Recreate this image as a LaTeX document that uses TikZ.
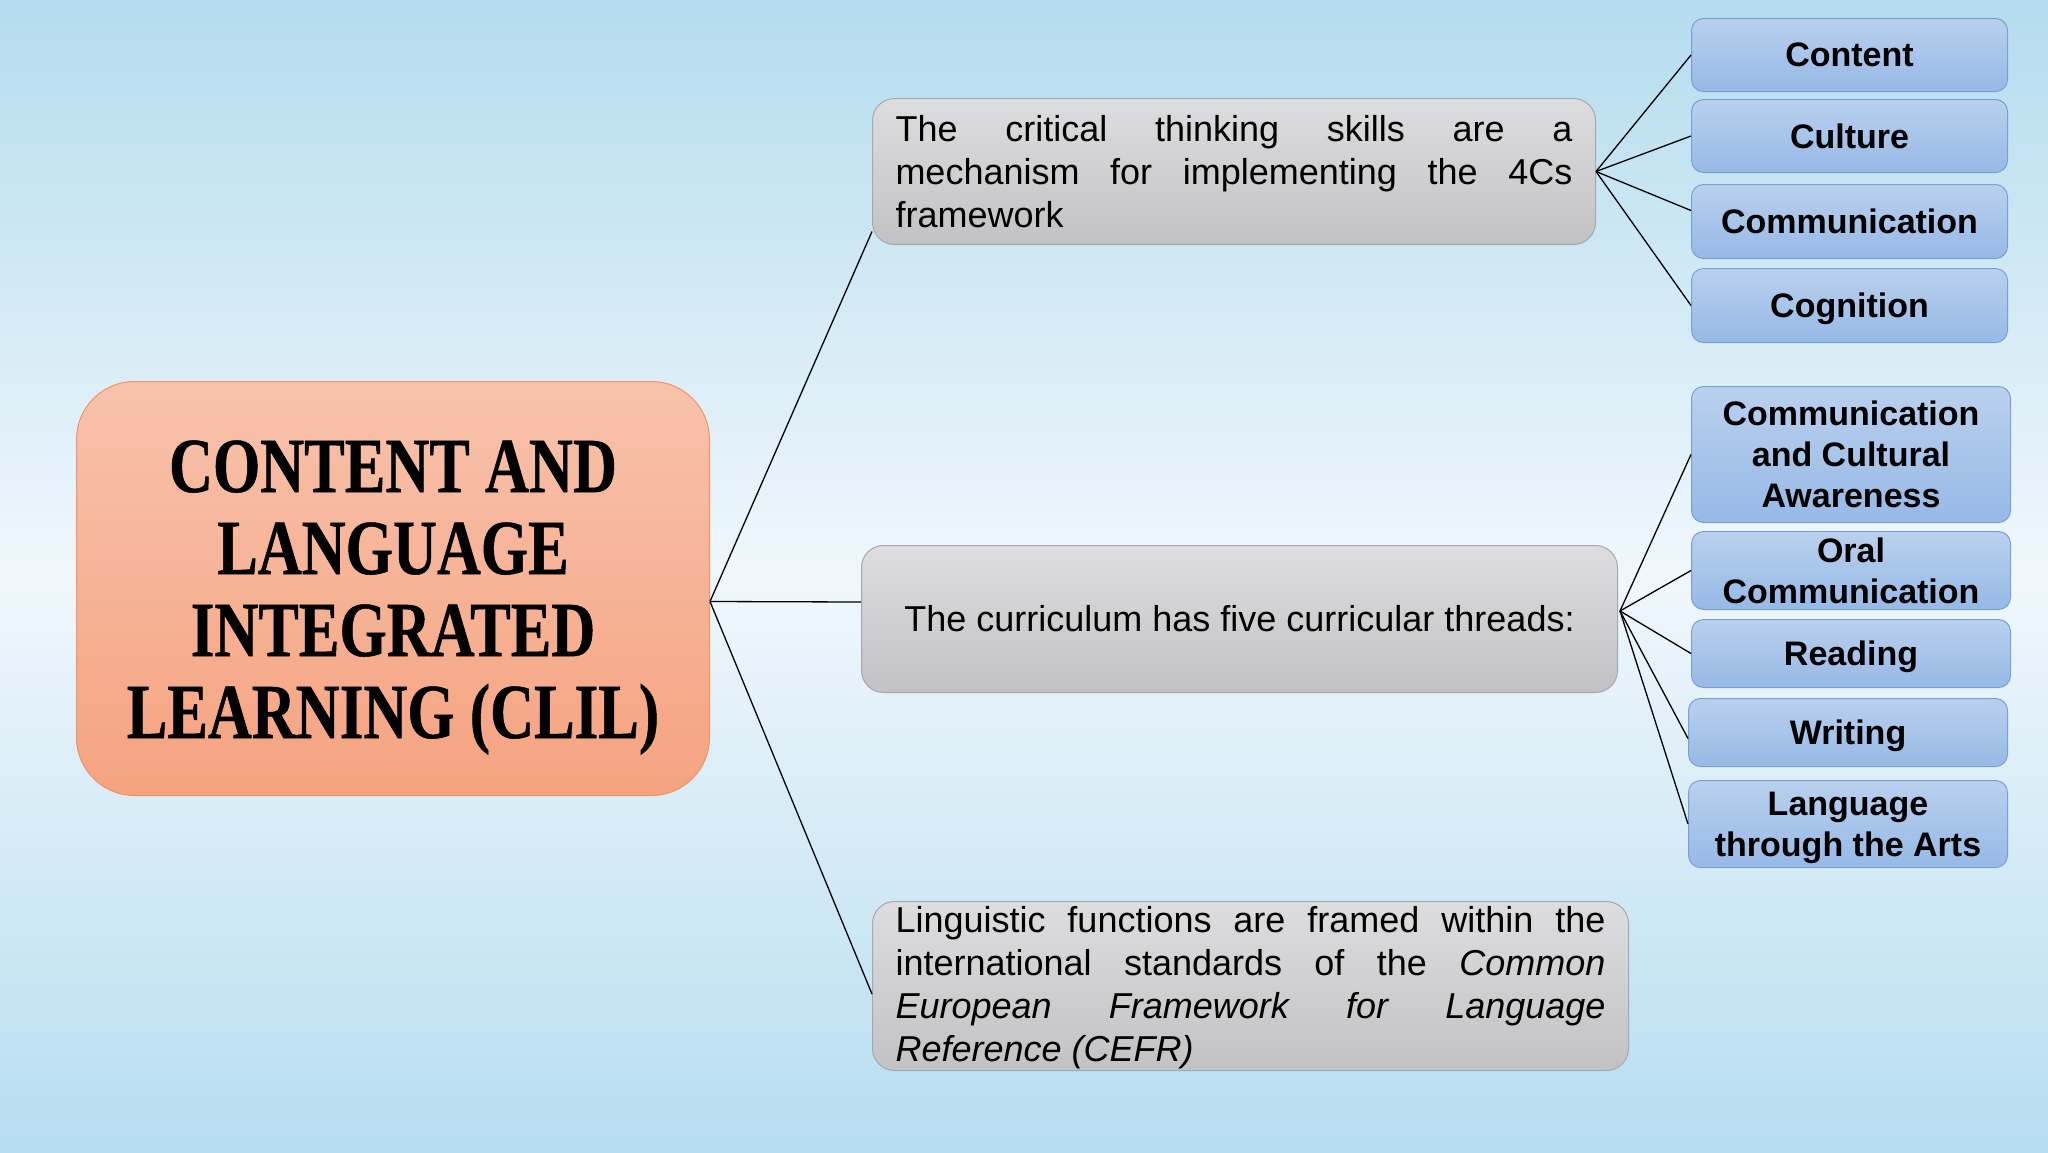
\documentclass[tikz,border=0pt]{standalone}
\usepackage{fontspec}
\setmainfont{Liberation Sans}
\newfontfamily\titlefont{Liberation Serif Bold}[FakeStretch=0.78, FakeBold=0.6]
\usetikzlibrary{calc}
\definecolor{bgtop}{RGB}{180,220,238}
\definecolor{bgmid}{RGB}{240,247,252}
\definecolor{bgbot}{RGB}{182,221,240}
\definecolor{maintop}{RGB}{248,194,172}
\definecolor{mainbot}{RGB}{245,163,128}
\definecolor{mainedge}{RGB}{236,150,100}
\definecolor{graytop}{RGB}{221,221,223}
\definecolor{graybot}{RGB}{194,194,197}
\definecolor{grayedge}{RGB}{165,168,172}
\definecolor{bluetop}{RGB}{186,208,238}
\definecolor{bluebot}{RGB}{150,185,230}
\definecolor{blueedge}{RGB}{120,160,215}
\tikzset{
  mainbox/.style={rounded corners=58pt, draw=mainedge, line width=1pt,
    top color=maintop, bottom color=mainbot},
  titletext/.style={align=center, inner sep=0pt,
    font=\titlefont\fontsize{78}{82}\selectfont},
  graybox/.style={rounded corners=22pt, draw=grayedge, line width=1pt,
    top color=graytop, bottom color=graybot, inner xsep=23pt,
    font=\fontsize{36}{43}\selectfont},
  bluebox/.style={rounded corners=12pt, draw=blueedge, line width=1pt,
    top color=bluetop, bottom color=bluebot, align=center, inner sep=0pt,
    text depth=0pt, font=\bfseries\fontsize{34}{41}\selectfont},
  link/.style={draw=black, line width=1.3pt}
}
\begin{document}
\begin{tikzpicture}[x=1pt,y=-1pt]
\useasboundingbox (0,0) rectangle (2048,1152);
\shade[top color=bgtop, bottom color=bgbot, middle color=bgmid] (0,0) rectangle (2048,1152);

% main box
\node[mainbox, anchor=north west, minimum width=633pt, minimum height=414pt] (main) at (76,381) {};
\node[titletext] (title) at ($(main.center)+(0,9)$)
  {CONTENT AND\\LANGUAGE\\INTEGRATED\\LEARNING (CLIL)};

% gray boxes
\node[graybox, anchor=north west, text width=677pt, minimum height=146pt, align=justify] (top) at (872,98)
  {The critical thinking skills are a\linebreak mechanism for implementing the 4Cs\linebreak framework};
\node[graybox, anchor=north west, minimum width=756pt, minimum height=147pt, align=center] (mid) at (861,545)
  {The curriculum has five curricular threads:};
\node[graybox, anchor=north west, text width=710pt, minimum height=169pt, inner ysep=0pt,
      text height=30pt, text depth=138pt, align=justify] (bot) at (872,901)
  {Linguistic functions are framed within the\linebreak international standards of the \textit{Common}\linebreak \textit{European Framework for Language}\linebreak \textit{Reference (CEFR)}};

% blue boxes (4Cs)
\node[bluebox, anchor=north west, minimum width=316pt, minimum height=73pt] (b1) at (1691,18) {Content};
\node[bluebox, anchor=north west, minimum width=316pt, minimum height=73pt] (b2) at (1691,99) {Culture};
\node[bluebox, anchor=north west, minimum width=316pt, minimum height=74pt] (b3) at (1691,184) {Communication};
\node[bluebox, anchor=north west, minimum width=316pt, minimum height=74pt] (b4) at (1691,268) {Cognition};

% blue boxes (threads)
\node[bluebox, anchor=north west, minimum width=319pt, minimum height=136pt] (c1) at (1691,386) {Communication\\and Cultural\\Awareness};
\node[bluebox, anchor=north west, minimum width=319pt, minimum height=78pt] (c2) at (1691,531) {Oral\\Communication};
\node[bluebox, anchor=north west, minimum width=319pt, minimum height=68pt] (c3) at (1691,619) {Reading};
\node[bluebox, anchor=north west, minimum width=319pt, minimum height=68pt] (c4) at (1688,698) {Writing};
\node[bluebox, anchor=north west, minimum width=319pt, minimum height=87pt] (c5) at (1688,780) {Language\\through the Arts};

% connectors from main
\coordinate (mr) at ($(main.east)+(0,13)$);
\draw[link] (mr) -- ($(top.west)+(0,60)$);
\draw[link] (mr) -- ($(mid.west)+(0,-17)$);
\draw[link] (mr) -- ($(bot.west)+(0,8)$);

% connectors from top box
\coordinate (tr) at (top.east);
\draw[link] (tr) -- (b1.west);
\draw[link] (tr) -- (b2.west);
\draw[link] (tr) -- ($(b3.west)+(0,-11)$);
\draw[link] (tr) -- (b4.west);

% connectors from middle box
\coordinate (mdr) at ($(mid.east)+(2,-8)$);
\draw[link] (mdr) -- (c1.west);
\draw[link] (mdr) -- (c2.west);
\draw[link] (mdr) -- (c3.west);
\draw[link] (mdr) -- ($(c4.west)+(0,6)$);
\draw[link] (mdr) -- (c5.west);
\end{tikzpicture}
\end{document}
